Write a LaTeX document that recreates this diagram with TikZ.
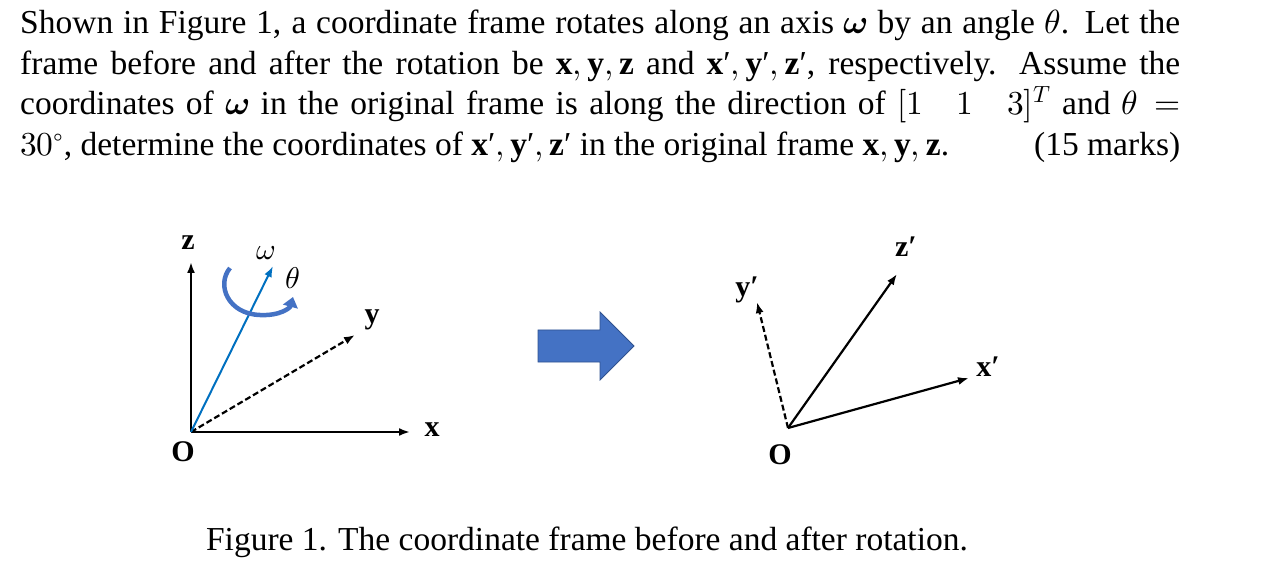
\documentclass[tikz,border=0pt]{standalone}
\usepackage{amsmath}
\usepackage{unicode-math}
\setmainfont{Liberation Serif}
\setmathfont{Latin Modern Math}
\usetikzlibrary{arrows.meta}
\definecolor{wblue}{RGB}{0,112,192}
\definecolor{rblue}{RGB}{68,114,196}
\definecolor{rbord}{RGB}{47,82,143}
\newcommand\prm{\text{′}}
\begin{document}
\begin{tikzpicture}[x=1pt,y=-1pt,
  ax/.style={line width=2.2pt,-{Latex[length=11pt,width=8pt]}},
  lab/.style={font=\fontsize{30}{32}\selectfont\bfseries},
  txt/.style={font=\fontsize{33.5}{40.5}\selectfont}]
\useasboundingbox (0,0) rectangle (1288,577);
\node[txt,anchor=north west,text width=1160pt,align=justify,inner sep=0pt] (para) at (20,10)
{Shown in Figure 1, a coordinate frame rotates along an axis $\symbf{\omega}$ by an angle $\theta$. Let the\linebreak
frame before and after the rotation be $\mathbf{x},\mathbf{y},\mathbf{z}$ and $\mathbf{x}\prm,\mathbf{y}\prm,\mathbf{z}\prm$, respectively. Assume the\linebreak
coordinates of $\symbf{\omega}$ in the original frame is along the direction of $[1\quad 1\quad 3]^T$ and $\theta=$\linebreak
$30^{\circ}$, determine the coordinates of $\mathbf{x}\prm,\mathbf{y}\prm,\mathbf{z}\prm$ in the original frame $\mathbf{x},\mathbf{y},\mathbf{z}$.\hfill(15 marks)\par};
% left frame
\coordinate (o1) at (191,432);
\coordinate (ze) at (191,262);
\coordinate (xe) at (410,432);
\coordinate (ye) at (355,335);
\coordinate (we) at (273,266);
\draw[ax] (o1) -- (ze);
\draw[ax] (o1) -- (xe);
\draw[ax,dashed,dash pattern=on 6pt off 3pt] (o1) -- (ye);
\draw[ax,wblue,line width=2pt] (o1) -- (we);
\node[lab] (zl) at (188,243) {z};
\node[lab] (xl) at (432,430) {x};
\node[lab] (yl) at (372,320) {y};
\node[lab] (ol) at (183,452) {O};
\node[font=\fontsize{30}{32}\selectfont] (wl) at (266,253) {$\omega$};
\node[font=\fontsize{30}{32}\selectfont] (tl) at (293,278) {$\theta$};
\draw[rblue,line width=4.5pt,-{Triangle[length=10pt,width=15pt]}] (230,268) .. controls (216,285) and (228,314) .. (260,315) .. controls (280,316) and (290,308) .. (293,297);
% big arrow
\draw[rbord,fill=rblue,line width=0.8pt] (538,330) -- (600,330) -- (600,312) -- (634,346) -- (600,380) -- (600,362) -- (538,362) -- cycle;
% right frame
\coordinate (o2) at (788,428);
\coordinate (ype) at (757,302);
\coordinate (zpe) at (897,274);
\coordinate (xpe) at (969,378);
\draw[ax,dashed,dash pattern=on 6pt off 3pt] (o2) -- (ype);
\draw[ax] (o2) -- (zpe);
\draw[ax] (o2) -- (xpe);
\node[lab] (ypl) at (747,290) {y′};
\node[lab] (zpl) at (906,247) {z′};
\node[lab] (xpl) at (988,367) {x′};
\node[lab] (o2l) at (780,455) {O};
\node[txt] (cap) at (587,542) {Figure 1. The coordinate frame before and after rotation.};
\end{tikzpicture}
\end{document}
